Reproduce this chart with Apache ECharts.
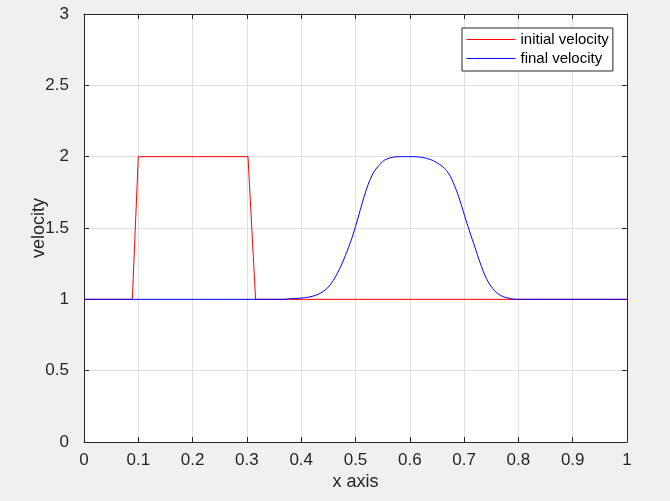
<!DOCTYPE html>
<html>
<head>
<meta charset="utf-8">
<script src="https://cdn.jsdelivr.net/npm/echarts@6/dist/echarts.min.js"></script>
<style>
html,body{margin:0;padding:0;background:#f0f0f0;}
#chart{width:670px;height:501px;}
</style>
</head>
<body>
<div id="chart"></div>
<script>
var seriesNames = ['initial velocity', 'final velocity'];
var seriesColors = ['#ff0000', '#0000ff'];
var initialX = [0, 0.089, 0.1, 0.302, 0.316, 1];
var initialY = [1, 1, 2, 2, 1, 1];
var finalX = [0, 0.37, 0.378, 0.4, 0.422, 0.44, 0.453, 0.465, 0.478, 0.49, 0.5, 0.509, 0.518, 0.53, 0.543, 0.558, 0.583, 0.6, 0.631, 0.655, 0.671, 0.683, 0.692, 0.701, 0.71, 0.72, 0.729, 0.741, 0.753, 0.766, 0.781, 0.8, 1];
var finalY = [1, 1, 1.004, 1.009, 1.023, 1.054, 1.1, 1.171, 1.276, 1.393, 1.51, 1.63, 1.745, 1.865, 1.938, 1.984, 2.0, 2.0, 1.988, 1.945, 1.885, 1.79, 1.696, 1.585, 1.478, 1.365, 1.262, 1.147, 1.075, 1.03, 1.009, 1.0, 1];
var xTicks = {min: 0, max: 1, interval: 0.1};
var yTicks = {min: 0, max: 3, interval: 0.5};
var xLabel = 'x axis';
var yLabel = 'velocity';

function pairs(xs, ys) { return xs.map(function (x, i) { return [x, ys[i]]; }); }

var FONT = 'Liberation Sans, Arial, Helvetica, sans-serif';
var AX = '#262626';
var chart = echarts.init(document.getElementById('chart'));
var tick = {show: true, inside: true, length: 5, lineStyle: {color: AX, width: 1}};
chart.setOption({
  backgroundColor: '#f0f0f0',
  animation: false,
  grid: {left: 84, right: 43, top: 14, bottom: 59, show: true, backgroundColor: '#ffffff', borderWidth: 0, containLabel: false},
  legend: {
    orient: 'vertical', left: 462, top: 28,
    padding: [4, 4, 5, 4], itemGap: 4, itemWidth: 49, itemHeight: 15,
    itemStyle: {opacity: 0},
    lineStyle: {width: 1},
    borderColor: AX, borderWidth: 1, backgroundColor: '#ffffff',
    textStyle: {fontFamily: FONT, fontSize: 15, lineHeight: 15, color: '#000'},
    data: seriesNames
  },
  xAxis: [{
    type: 'value', position: 'bottom', min: xTicks.min, max: xTicks.max, interval: xTicks.interval,
    name: xLabel, nameLocation: 'middle', nameGap: 31, nameMoveOverlap: false,
    nameTextStyle: {fontFamily: FONT, fontSize: 18, color: AX},
    axisLine: {show: true, onZero: false, lineStyle: {color: AX, width: 1}},
    axisTick: tick,
    axisLabel: {fontFamily: FONT, fontSize: 17, color: AX, margin: 10},
    splitLine: {show: true, lineStyle: {color: '#dfdfdf', width: 1}}
  }, {
    type: 'value', position: 'top', min: xTicks.min, max: xTicks.max, interval: xTicks.interval,
    axisLine: {show: true, onZero: false, lineStyle: {color: AX, width: 1}},
    axisTick: tick, axisLabel: {show: false}, splitLine: {show: false}
  }],
  yAxis: [{
    type: 'value', position: 'left', min: yTicks.min, max: yTicks.max, interval: yTicks.interval,
    name: yLabel, nameLocation: 'middle', nameGap: 36, nameRotate: 90, nameMoveOverlap: false,
    nameTextStyle: {fontFamily: FONT, fontSize: 18, color: AX},
    axisLine: {show: true, onZero: false, lineStyle: {color: AX, width: 1}},
    axisTick: tick,
    axisLabel: {fontFamily: FONT, fontSize: 17, color: AX, margin: 15},
    splitLine: {show: true, lineStyle: {color: '#dfdfdf', width: 1}}
  }, {
    type: 'value', position: 'right', min: yTicks.min, max: yTicks.max, interval: yTicks.interval,
    axisLine: {show: true, onZero: false, lineStyle: {color: AX, width: 1}},
    axisTick: tick, axisLabel: {show: false}, splitLine: {show: false}
  }],
  series: [{
    name: seriesNames[0], type: 'line', data: pairs(initialX, initialY),
    symbol: 'none', showSymbol: false, color: seriesColors[0],
    lineStyle: {color: seriesColors[0], width: 1}
  }, {
    name: seriesNames[1], type: 'line', data: pairs(finalX, finalY),
    symbol: 'none', showSymbol: false, smooth: 0.4, color: seriesColors[1],
    lineStyle: {color: seriesColors[1], width: 1}
  }]
});
</script>
</body>
</html>
